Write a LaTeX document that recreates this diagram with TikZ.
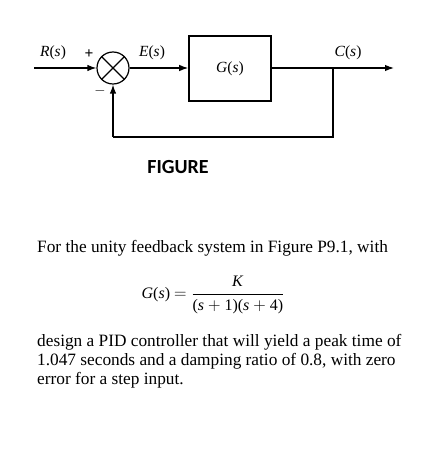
\documentclass[tikz,border=0pt]{standalone}
\usepackage{fontspec}
\setmainfont{Liberation Serif}
\newfontfamily\figfont{Carlito}
\usetikzlibrary{arrows.meta}
\newcommand{\iv}[1]{\textit{#1}}
\tikzset{
  sig/.style={line width=1.2pt, -{Latex[length=9pt,width=6.5pt]}},
  wire/.style={line width=1.2pt},
  sumnode/.style={circle, draw, line width=1.2pt, minimum size=32pt, inner sep=0pt},
  blockbox/.style={draw, line width=1.6pt, minimum width=82pt, minimum height=65pt, inner sep=0pt},
  lbl/.style={font=\fontsize{15.5}{17}\selectfont, inner sep=0pt},
  para/.style={font=\fontsize{17.3}{20}\selectfont, inner sep=0pt, anchor=west}
}
\begin{document}
\begin{tikzpicture}[x=1pt,y=-1pt]
\useasboundingbox[fill=white] (0,0) rectangle (444,454);
\coordinate (in) at (34,68);
\node[sumnode] (sum) at (113,68) {};
\draw[wire] (sum.north west) -- (sum.south east);
\draw[wire] (sum.north east) -- (sum.south west);
\node[blockbox] (G) at (230,68.5) {};
\node[lbl] (Glbl) at (230,69) {\iv{G}(\iv{s})};
\coordinate (br) at (333,68);
\coordinate (out) at (394,68);
\coordinate (fb) at (333,137);
\coordinate (fbl) at (113,137);
\draw[sig] (in) -- (sum.west);
\draw[sig] (sum.east) -- (G.west |- sum.east);
\draw[wire] (G.east |- br) -- (br);
\draw[sig] (br) -- (out);
\draw[wire] (br) -- (fb) -- (fbl);
\draw[sig] (fbl) -- (sum.south);
\node[lbl] (R) at (53,53) {\iv{R}(\iv{s})};
\node[lbl] (plus) at (89,54) {\bfseries +};
\node[lbl] (minus) at (100,91) {\bfseries $-$};
\node[lbl] (E) at (152,53) {\iv{E}(\iv{s})};
\node[lbl] (C) at (348,53) {\iv{C}(\iv{s})};
\node[font=\figfont\bfseries\fontsize{20}{22}\selectfont, inner sep=0pt] (fig) at (178,167) {FIGURE};
\node[para] (l1) at (37,248) {For the unity feedback system in Figure P9.1, with};
\node[font=\fontsize{16}{19}\selectfont, inner sep=0pt] (eq) at (213,295) {\iv{G}(\iv{s}) $=\displaystyle\frac{\hbox{\iv{K}}}{\hbox{(\iv{s} $+$ 1)(\iv{s} $+$ 4)}}$};
\node[para] (l2) at (37,342) {design a PID controller that will yield a peak time of};
\node[para] (l3) at (37,361) {1.047 seconds and a damping ratio of 0.8, with zero};
\node[para] (l4) at (37,380) {error for a step input.};
\end{tikzpicture}
\end{document}
